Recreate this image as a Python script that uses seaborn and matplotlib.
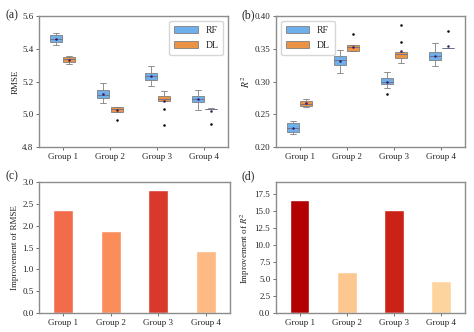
import numpy as np
import pandas as pd
import matplotlib
matplotlib.use("Agg")
import matplotlib.pyplot as plt
import seaborn as sns

groups = ["Group 1", "Group 2", "Group 3", "Group 4"]
models = ["RF", "DL"]

rmse_rf = [
    [5.421, 5.430, 5.439, 5.450, 5.461, 5.470, 5.484, 5.490, 5.498],
    [5.070, 5.085, 5.097, 5.110, 5.119, 5.130, 5.148, 5.170, 5.193],
    [5.174, 5.195, 5.209, 5.220, 5.231, 5.240, 5.250, 5.270, 5.297],
    [5.026, 5.050, 5.073, 5.085, 5.093, 5.100, 5.113, 5.130, 5.148],
]
rmse_dl = [
    [5.305, 5.312, 5.319, 5.328, 5.335, 5.342, 5.352, 5.354, 5.356],
    [4.963, 5.016, 5.016, 5.025, 5.030, 5.038, 5.046, 5.046, 5.046],
    [4.934, 5.030, 5.083, 5.090, 5.095, 5.100, 5.109, 5.130, 5.144],
    [4.942, 5.030, 5.031, 5.032, 5.032, 5.033, 5.034, 5.035, 5.036],
]
r2_rf = [
    [0.2194, 0.2210, 0.2225, 0.2260, 0.2286, 0.2320, 0.2363, 0.2380, 0.2399],
    [0.3125, 0.3190, 0.3258, 0.3300, 0.3330, 0.3360, 0.3396, 0.3440, 0.3478],
    [0.2803, 0.2895, 0.2962, 0.2980, 0.2987, 0.3010, 0.3049, 0.3100, 0.3146],
    [0.3238, 0.3290, 0.3335, 0.3360, 0.3386, 0.3410, 0.3448, 0.3520, 0.3586],
]
r2_dl = [
    [0.2619, 0.2622, 0.2629, 0.2650, 0.2665, 0.2680, 0.2696, 0.2720, 0.2737],
    [0.3463, 0.3463, 0.3463, 0.3500, 0.3524, 0.3540, 0.3555, 0.3555, 0.3719],
    [0.3279, 0.3310, 0.3355, 0.3400, 0.3422, 0.3440, 0.3453, 0.3610, 0.3867],
    [0.3508, 0.3510, 0.3512, 0.3513, 0.3514, 0.3515, 0.3516, 0.3520, 0.3770],
]
impr_rmse = [2.35, 1.88, 2.82, 1.42]
impr_r2 = [16.6, 5.97, 15.1, 4.74]
colors_c = ["#F26B4A", "#FB8D5A", "#D8392A", "#FDBA85"]
colors_d = ["#B30000", "#FDC88F", "#CB2218", "#FDD49E"]


def long_frame(rf, dl, name):
    rows = []
    for g, vals in zip(groups, rf):
        rows += [(g, "RF", v) for v in vals]
    for g, vals in zip(groups, dl):
        rows += [(g, "DL", v) for v in vals]
    return pd.DataFrame(rows, columns=["Group", "Model", name])


sns.set_style("white")
plt.rcParams["font.family"] = ["Liberation Serif", "DejaVu Serif"]
plt.rcParams["mathtext.fontset"] = "stix"

fig = plt.figure(figsize=(4.74, 3.32), dpi=100)
pos = {
    "a": [0.0823, 0.557, 0.399, 0.3946],
    "b": [0.582, 0.557, 0.399, 0.3946],
    "c": [0.0823, 0.0572, 0.403, 0.3946],
    "d": [0.582, 0.0572, 0.399, 0.3946],
}
spine_c = "#8c8c8c"
fs = 6.5


def style(ax):
    for s in ax.spines.values():
        s.set_color(spine_c)
        s.set_linewidth(1.0)
    ax.tick_params(axis="both", labelsize=fs, length=2.5, width=0.6,
                   color="#555555", pad=1.5, left=True, bottom=True)
    ax.set_xlabel("")


pal = {"RF": "#6FB0EA", "DL": "#EC9445"}
boxkw = dict(
    width=0.56, gap=0.1, linewidth=0.6, linecolor="#7f7f7f", saturation=1,
    showmeans=True,
    meanprops=dict(marker="o", markerfacecolor="#3b1660", markeredgecolor="none", markersize=1.8),
    flierprops=dict(marker="o", markerfacecolor="black", markeredgecolor="none", markersize=1.8),
    medianprops=dict(color="#6c6c8c", linewidth=0.6),
)

# (a)
ax = fig.add_axes(pos["a"])
df = long_frame(rmse_rf, rmse_dl, "RMSE")
sns.boxplot(data=df, x="Group", y="RMSE", hue="Model", hue_order=models, palette=pal, ax=ax, **boxkw)
ax.set_ylim(4.8, 5.6)
ax.set_yticks(np.arange(4.8, 5.61, 0.2))
ax.set_ylabel("RMSE", fontsize=fs, labelpad=2)
ax.legend(loc="upper right", fontsize=7, handlelength=2.4, handleheight=0.8,
          frameon=True, edgecolor="#cccccc", borderpad=0.5, labelspacing=0.6)
style(ax)

# (b)
ax = fig.add_axes(pos["b"])
df = long_frame(r2_rf, r2_dl, "R2")
sns.boxplot(data=df, x="Group", y="R2", hue="Model", hue_order=models, palette=pal, ax=ax, **boxkw)
ax.set_ylim(0.20, 0.40)
ax.set_yticks(np.arange(0.20, 0.401, 0.05))
ax.yaxis.set_major_formatter(matplotlib.ticker.FormatStrFormatter("%.2f"))
ax.set_ylabel("$R^2$", fontsize=fs + 0.5, labelpad=2)
ax.legend(loc="upper left", fontsize=7, handlelength=2.4, handleheight=0.8,
          frameon=True, edgecolor="#cccccc", borderpad=0.5, labelspacing=0.6)
style(ax)

# (c)
ax = fig.add_axes(pos["c"])
dfc = pd.DataFrame({"Group": groups, "val": impr_rmse})
sns.barplot(data=dfc, x="Group", y="val", hue="Group", palette=colors_c, width=0.42,
            legend=False, ax=ax, saturation=1)
ax.set_ylim(0, 3.0)
ax.set_yticks(np.arange(0, 3.01, 0.5))
ax.yaxis.set_major_formatter(matplotlib.ticker.FormatStrFormatter("%.1f"))
ax.set_ylabel("Improvement of RMSE", fontsize=fs, labelpad=2)
style(ax)

# (d)
ax = fig.add_axes(pos["d"])
dfd = pd.DataFrame({"Group": groups, "val": impr_r2})
sns.barplot(data=dfd, x="Group", y="val", hue="Group", palette=colors_d, width=0.42,
            legend=False, ax=ax, saturation=1)
ax.set_ylim(0, 19.2)
ax.set_yticks(np.arange(0, 17.51, 2.5))
ax.yaxis.set_major_formatter(matplotlib.ticker.FormatStrFormatter("%.1f"))
ax.set_ylabel("Improvement of $R^2$", fontsize=fs, labelpad=2)
style(ax)

for lab, x, y in [("(a)", 0.012, 0.955), ("(b)", 0.51, 0.955),
                  ("(c)", 0.012, 0.47), ("(d)", 0.51, 0.47)]:
    fig.text(x, y, lab, fontsize=8.5, ha="left", va="center")

fig.savefig("out.png", dpi=100)
